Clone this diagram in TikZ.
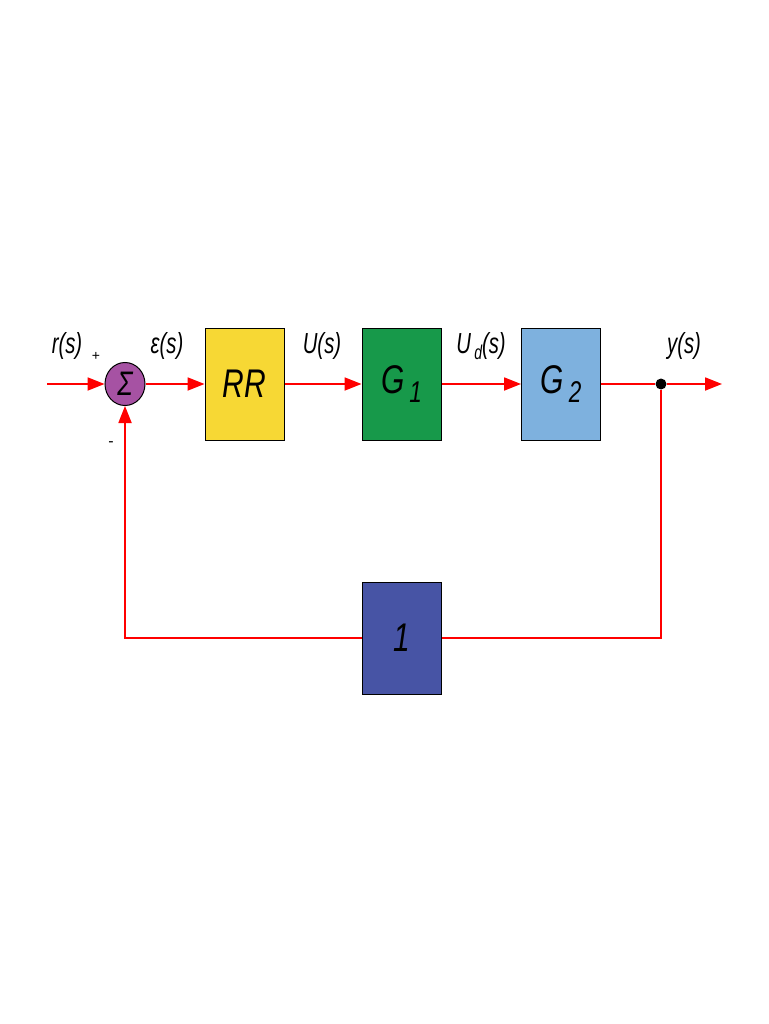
\documentclass[tikz,border=0pt]{standalone}
\usepackage{fontspec}
\setmainfont{Liberation Sans}
\usetikzlibrary{shapes.geometric,arrows.meta}
\definecolor{sumc}{HTML}{A652A3}
\definecolor{rrc}{HTML}{F7D834}
\definecolor{g1c}{HTML}{17994A}
\definecolor{g2c}{HTML}{7EB1DE}
\definecolor{fbc}{HTML}{4754A5}
\begin{document}
\begin{tikzpicture}[x=1pt,y=-1pt,
  blk/.style={draw=black,line width=1pt,minimum width=79pt,minimum height=112pt,inner sep=0pt,font=\itshape\fontsize{40}{40}\selectfont},
  lbl/.style={font=\itshape\fontsize{29}{29}\selectfont},
  sig/.style={red,line width=1.8pt},
  arr/.style={sig,-{Triangle[length=17pt,width=13pt]}}]
\useasboundingbox (0,0) rectangle (768,1024);
\node[ellipse,draw=black,line width=1pt,fill=sumc,minimum width=40pt,minimum height=43pt,inner sep=0pt,font=\itshape\fontsize{34}{34}\selectfont] (sum) at (125,384) {\scalebox{0.75}[1]{Σ}};
\node[blk,fill=rrc] (rr) at (244.5,384) {\scalebox{0.75}[1]{RR}};
\node[blk,fill=g1c] (g1) at (401.5,384) {\scalebox{0.75}[1]{G\,\raisebox{-9pt}{\fontsize{30}{30}\selectfont 1}}};
\node[blk,fill=g2c] (g2) at (561,384) {\scalebox{0.75}[1]{G\,\raisebox{-9pt}{\fontsize{30}{30}\selectfont 2}}};
\node[blk,fill=fbc] (fb) at (401.5,638) {\scalebox{0.75}[1]{1}};
\coordinate (in) at (47,384);
\coordinate (out) at (722,384);
\node[circle,fill=black,inner sep=0pt,minimum size=11pt] (dot) at (661,384) {};
\coordinate (c1) at (661,638);
\coordinate (c2) at (125,638);
\draw[arr] (in) -- (sum.west);
\draw[arr] (sum.east) -- (rr.west);
\draw[arr] (rr.east) -- (g1.west);
\draw[arr] (g1.east) -- (g2.west);
\draw[sig] (g2.east) -- (dot);
\draw[arr] (dot) -- (out);
\draw[sig] (dot) -- (c1) -- (fb.east);
\draw[arr] (fb.west) -- (c2) -- (sum.south);
\node[lbl] (lr) at (67,346) {\scalebox{0.7}[1]{r(s)}};
\node[lbl] (le) at (167,346) {\scalebox{0.7}[1]{ε(s)}};
\node[lbl] (lu) at (322,346) {\scalebox{0.7}[1]{U(s)}};
\node[lbl] (lud) at (481,346) {\scalebox{0.7}[1]{U\,\raisebox{-6pt}{\fontsize{20}{20}\selectfont d}(s)}};
\node[lbl] (ly) at (684,346) {\scalebox{0.7}[1]{y(s)}};
\node[font=\fontsize{14}{14}\selectfont] (plus) at (96,356) {+};
\node[font=\fontsize{16}{16}\selectfont] (minus) at (111,444) {-};
\end{tikzpicture}
\end{document}
